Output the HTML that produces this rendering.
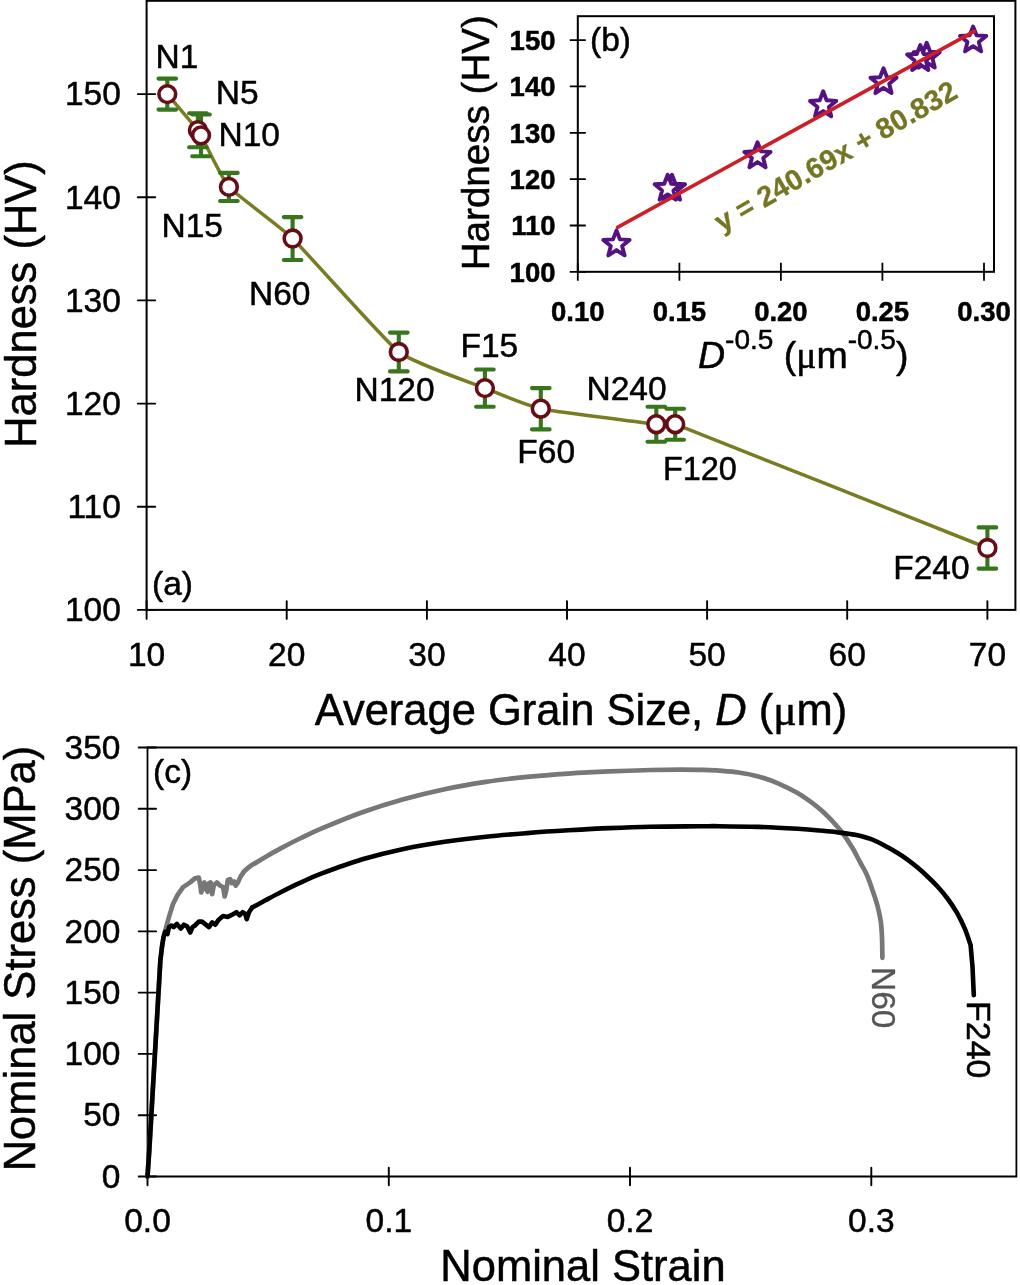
<!DOCTYPE html>
<html lang="en"><head><meta charset="utf-8"><title>Hardness and stress-strain figure</title>
<style>html,body{margin:0;padding:0;background:#fff}svg{display:block}text{font-family:"Liberation Sans", sans-serif;stroke:#000;stroke-width:.5px;stroke-linejoin:round}</style>
</head><body>
<svg width="1020" height="1285" viewBox="0 0 1020 1285">
<rect width="1020" height="1285" fill="#fff"/>
<rect x="146.6" y="0.8" width="868.8" height="609.1" fill="none" stroke="#000" stroke-width="2"/>
<path d="M146.6 601.1V618.9M286.7 601.1V618.9M426.9 601.1V618.9M567.0 601.1V618.9M707.1 601.1V618.9M847.2 601.1V618.9M987.4 601.1V618.9M137.8 609.9H155.2M137.8 506.7H155.2M137.8 403.6H155.2M137.8 300.4H155.2M137.8 197.3H155.2M137.8 94.1H155.2" stroke="#000" stroke-width="1.9" stroke-linecap="round" fill="none"/>
<g font-size="33.5" fill="#000">
<text x="146.6" y="665.6" text-anchor="middle">10</text>
<text x="286.7" y="665.6" text-anchor="middle">20</text>
<text x="426.9" y="665.6" text-anchor="middle">30</text>
<text x="567.0" y="665.6" text-anchor="middle">40</text>
<text x="707.1" y="665.6" text-anchor="middle">50</text>
<text x="847.2" y="665.6" text-anchor="middle">60</text>
<text x="987.4" y="665.6" text-anchor="middle">70</text>
<text x="120.8" y="621.2" text-anchor="end">100</text>
<text x="120.8" y="518.0" text-anchor="end">110</text>
<text x="120.8" y="414.9" text-anchor="end">120</text>
<text x="120.8" y="311.7" text-anchor="end">130</text>
<text x="120.8" y="208.6" text-anchor="end">140</text>
<text x="120.8" y="105.4" text-anchor="end">150</text>
</g>
<path d="M167.3 94.1C169.5 96.7 195.5 127.3 197.9 130.2C200.3 133.2 198.8 131.3 201.0 135.4C203.3 139.4 222.3 179.6 228.9 186.9C235.4 194.3 280.5 226.7 292.6 238.5C304.8 250.3 385.1 341.3 398.8 352.0C412.6 362.7 474.7 384.1 484.9 388.1C495.0 392.2 528.5 406.2 540.8 408.7C553.0 411.3 646.7 423.1 656.3 424.2C665.9 425.3 651.5 415.4 675.2 424.2C698.8 433.1 965.1 539.2 987.4 548.0" fill="none" stroke="#7a7c24" stroke-width="3.5" stroke-linejoin="round"/>
<path d="M167.3 78.6V109.6M158.5 78.6h17.6M158.5 109.6h17.6M197.9 113.2V147.2M189.1 113.2h17.6M189.1 147.2h17.6M201.0 114.5V156.2M192.2 114.5h17.6M192.2 156.2h17.6M228.9 172.9V201.0M220.1 172.9h17.6M220.1 201.0h17.6M292.6 217.1V260.0M283.8 217.1h17.6M283.8 260.0h17.6M398.8 332.6V371.4M390.0 332.6h17.6M390.0 371.4h17.6M484.9 369.5V406.7M476.1 369.5h17.6M476.1 406.7h17.6M540.8 388.1V429.4M532.0 388.1h17.6M532.0 429.4h17.6M656.3 406.7V441.7M647.5 406.7h17.6M647.5 441.7h17.6M675.2 408.7V439.7M666.4 408.7h17.6M666.4 439.7h17.6M987.4 527.4V568.6M978.6 527.4h17.6M978.6 568.6h17.6" fill="none" stroke="#38761d" stroke-width="4.1" stroke-linecap="round"/>
<circle cx="167.3" cy="94.1" r="8.4" fill="#fff" stroke="#660d17" stroke-width="3.6"/>
<circle cx="197.9" cy="130.2" r="8.4" fill="#fff" stroke="#660d17" stroke-width="3.6"/>
<circle cx="201.0" cy="135.4" r="8.4" fill="#fff" stroke="#660d17" stroke-width="3.6"/>
<circle cx="228.9" cy="186.9" r="8.4" fill="#fff" stroke="#660d17" stroke-width="3.6"/>
<circle cx="292.6" cy="238.5" r="8.4" fill="#fff" stroke="#660d17" stroke-width="3.6"/>
<circle cx="398.8" cy="352.0" r="8.4" fill="#fff" stroke="#660d17" stroke-width="3.6"/>
<circle cx="484.9" cy="388.1" r="8.4" fill="#fff" stroke="#660d17" stroke-width="3.6"/>
<circle cx="540.8" cy="408.7" r="8.4" fill="#fff" stroke="#660d17" stroke-width="3.6"/>
<circle cx="656.3" cy="424.2" r="8.4" fill="#fff" stroke="#660d17" stroke-width="3.6"/>
<circle cx="675.2" cy="424.2" r="8.4" fill="#fff" stroke="#660d17" stroke-width="3.6"/>
<circle cx="987.4" cy="548.0" r="8.4" fill="#fff" stroke="#660d17" stroke-width="3.6"/>
<g font-size="33.5" fill="#000">
<text x="155.5" y="68">N1</text>
<text x="215.8" y="103.7">N5</text>
<text x="218.5" y="145.5">N10</text>
<text x="161.5" y="236.5">N15</text>
<text x="249" y="305">N60</text>
<text x="354.5" y="401">N120</text>
<text x="460.5" y="356.5">F15</text>
<text x="517.3" y="463">F60</text>
<text x="586.5" y="400">N240</text>
<text x="663" y="480.3" font-size="32.4">F120</text>
<text x="893.2" y="578.5">F240</text>
<text x="152" y="594.5">(a)</text>
</g>
<text transform="translate(36.0,304) rotate(-90)" text-anchor="middle" font-size="43.5">Hardness (HV)</text>
<text x="581" y="725" text-anchor="middle" font-size="43.5">Average Grain Size, <tspan font-style="italic">D</tspan> (<tspan font-family="'Liberation Serif', serif">μ</tspan>m)</text>
<rect x="577.8" y="16.2" width="416.2" height="255.6" fill="#fff" stroke="#000" stroke-width="2"/>
<path d="M577.8 262.8V280.8M679.4 262.8V280.8M780.9 262.8V280.8M882.4 262.8V280.8M984.0 262.8V280.8M569.8 271.8H585.8M569.8 225.5H585.8M569.8 179.1H585.8M569.8 132.8H585.8M569.8 86.4H585.8M569.8 40.1H585.8" stroke="#000" stroke-width="1.8" fill="none"/>
<g font-size="27.5" font-weight="bold" fill="#000">
<text x="577.8" y="320.5" text-anchor="middle">0.10</text>
<text x="679.4" y="320.5" text-anchor="middle">0.15</text>
<text x="780.9" y="320.5" text-anchor="middle">0.20</text>
<text x="882.4" y="320.5" text-anchor="middle">0.25</text>
<text x="984.0" y="320.5" text-anchor="middle">0.30</text>
<text x="555.5" y="281.6" text-anchor="end">100</text>
<text x="555.5" y="235.3" text-anchor="end">110</text>
<text x="555.5" y="188.9" text-anchor="end">120</text>
<text x="555.5" y="142.6" text-anchor="end">130</text>
<text x="555.5" y="96.2" text-anchor="end">140</text>
<text x="555.5" y="49.9" text-anchor="end">150</text>
</g>
<g fill="#fff" stroke="#541380" stroke-width="3.9" stroke-linejoin="round">
<polygon points="973.1,26.5 976.6,35.4 986.3,36.0 978.8,42.1 981.2,51.4 973.1,46.2 965.0,51.4 967.5,42.1 960.0,36.0 969.6,35.4"/>
<polygon points="926.7,42.7 930.2,51.7 939.8,52.2 932.4,58.3 934.8,67.6 926.7,62.4 918.6,67.6 921.1,58.3 913.6,52.2 923.2,51.7"/>
<polygon points="920.3,45.0 923.7,54.0 933.4,54.5 925.9,60.6 928.4,70.0 920.3,64.7 912.1,70.0 914.6,60.6 907.1,54.5 916.8,54.0"/>
<polygon points="883.5,68.2 887.0,77.2 896.6,77.7 889.2,83.8 891.6,93.1 883.5,87.9 875.4,93.1 877.9,83.8 870.4,77.7 880.0,77.2"/>
<polygon points="823.2,91.3 826.6,100.3 836.3,100.9 828.8,107.0 831.3,116.3 823.2,111.1 815.0,116.3 817.5,107.0 810.0,100.9 819.7,100.3"/>
<polygon points="757.5,142.3 761.0,151.3 770.6,151.9 763.2,158.0 765.6,167.3 757.5,162.1 749.4,167.3 751.9,158.0 744.4,151.9 754.0,151.3"/>
<polygon points="672.0,174.8 675.4,183.8 685.1,184.3 677.6,190.4 680.1,199.7 672.0,194.5 663.8,199.7 666.3,190.4 658.8,184.3 668.5,183.8"/>
<polygon points="667.7,174.8 671.2,183.8 680.8,184.3 673.4,190.4 675.8,199.7 667.7,194.5 659.6,199.7 662.1,190.4 654.6,184.3 664.2,183.8"/>
<polygon points="616.5,230.4 619.9,239.4 629.6,239.9 622.1,246.0 624.6,255.4 616.5,250.1 608.3,255.4 610.8,246.0 603.3,239.9 613.0,239.4"/>
</g>
<path d="M617.5 227.3L974.1 31.4" stroke="#cd1f28" stroke-width="3.6" stroke-linecap="round" fill="none"/>
<text transform="translate(721.5,232.5) rotate(-29.7)" font-size="28.8" font-weight="bold" fill="#757624" style="stroke:#757624;stroke-width:.3px">y = 240.69x + 80.832</text>
<text x="590" y="51" font-size="33.5">(b)</text>
<text transform="translate(489,142.7) rotate(-90)" text-anchor="middle" font-size="38.6">Hardness (HV)</text>
<text x="698" y="368" font-size="37.5"><tspan font-style="italic">D</tspan><tspan font-size="28" dy="-18.7">-0.5</tspan><tspan dy="18.7"> (</tspan><tspan font-family="'Liberation Serif', serif">μ</tspan>m<tspan font-size="28" dy="-18.7">-0.5</tspan><tspan dy="18.7">)</tspan></text>
<path d="M147.5 747.5H1016.4V1176.5H147.5Z" fill="none" stroke="#000" stroke-width="1.8"/>
<path d="M147.5 1167.7V1185.3M388.8 1167.7V1185.3M630.0 1167.7V1185.3M871.3 1167.7V1185.3M138.7 1176.5H156.1M138.7 1115.2H156.1M138.7 1053.9H156.1M138.7 992.6H156.1M138.7 931.4H156.1M138.7 870.1H156.1M138.7 808.8H156.1M138.7 747.5H156.1" stroke="#000" stroke-width="1.9" stroke-linecap="round" fill="none"/>
<g font-size="33.5" fill="#000">
<text x="147.5" y="1232" text-anchor="middle">0.0</text>
<text x="388.8" y="1232" text-anchor="middle">0.1</text>
<text x="630.0" y="1232" text-anchor="middle">0.2</text>
<text x="871.3" y="1232" text-anchor="middle">0.3</text>
<text x="120.5" y="1187.7" text-anchor="end">0</text>
<text x="120.5" y="1126.4" text-anchor="end">50</text>
<text x="120.5" y="1065.1" text-anchor="end">100</text>
<text x="120.5" y="1003.8" text-anchor="end">150</text>
<text x="120.5" y="942.6" text-anchor="end">200</text>
<text x="120.5" y="881.3" text-anchor="end">250</text>
<text x="120.5" y="820.0" text-anchor="end">300</text>
<text x="120.5" y="758.7" text-anchor="end">350</text>
<text x="153" y="782.5">(c)</text>
</g>
<path d="M147.5 1176.5L149.3 1150.0L160.4 960.0L162.0 946.7L163.5 937.3L165.1 931.0L169.0 916.9L172.9 904.3L177.6 894.9L183.1 887.1L190.2 882.4L194.9 878.4L198.8 877.6L200.4 885.5L201.2 892.5L202.7 887.1L204.3 882.4L205.9 888.6L207.5 891.8L209.0 883.1L210.6 882.4L212.2 894.1L213.7 885.5L216.9 882.4L220.0 885.5L223.1 887.1L224.7 896.5L226.3 890.2L227.8 880.0L230.2 879.2L231.8 883.1L234.1 881.6L235.7 885.5L238.0 882.4L240.4 876.9L243.5 872.2" fill="none" stroke="#777" stroke-width="4.7" stroke-linejoin="round" stroke-linecap="round"/>
<path d="M243.5 872.2C244.6 871.2 246.1 869.0 249.8 866.5C253.5 864.0 260.3 860.0 265.5 856.9C270.7 853.8 275.4 851.2 281.2 848.1C286.9 845.0 293.3 841.7 300.0 838.5C306.7 835.3 310.8 833.1 321.2 828.7C331.6 824.3 348.7 817.2 362.4 812.3C376.1 807.4 389.8 803.1 403.5 799.3C417.2 795.4 431.0 792.1 444.7 789.2C458.4 786.3 472.2 784.0 485.9 781.9C499.6 779.8 513.4 778.3 527.1 776.9C540.8 775.5 554.5 774.5 568.2 773.6C581.9 772.7 595.7 772.0 609.4 771.4C623.1 770.8 638.8 770.3 650.6 770.0C662.4 769.7 671.8 769.6 680.0 769.6C688.2 769.6 693.1 769.6 699.6 769.8C706.1 770.0 712.7 770.1 719.2 770.6C725.7 771.1 732.3 771.5 738.8 772.5C745.3 773.5 751.9 774.7 758.4 776.5C764.9 778.3 771.5 780.5 778.0 783.3C784.5 786.1 791.1 789.2 797.6 793.1C804.1 797.0 811.7 802.5 817.3 806.9C822.9 811.3 826.8 815.2 831.0 819.6C835.2 824.0 839.1 828.6 842.7 833.3C846.3 838.0 849.5 843.0 852.5 848.0C855.5 853.0 858.1 858.6 860.5 863.0C862.9 867.4 864.7 870.0 866.7 874.5C868.7 879.0 870.7 885.0 872.5 890.2C874.3 895.4 876.1 900.7 877.5 905.9C878.9 911.1 880.0 916.4 880.8 921.6C881.5 926.8 881.7 931.3 882.0 937.3C882.3 943.3 882.3 954.4 882.4 957.8" fill="none" stroke="#777" stroke-width="4.7" stroke-linejoin="round" stroke-linecap="round"/>
<path d="M147.5 1176.5L149.3 1150.0L160.4 960.0L162.0 946.7L163.5 937.3L165.1 931.8L167.5 934.1L169.0 927.1L171.4 925.5L173.7 927.1L176.9 923.9L180.8 928.6L183.9 924.7L187.1 926.3L190.2 932.5L192.5 927.1L194.9 925.5L198.8 921.6L202.0 921.6L209.0 927.1L212.2 922.4L215.3 924.7L218.4 920.0L223.1 916.1L227.8 916.9L232.5 914.5L236.5 912.2L239.6 915.3L242.7 912.2L245.1 913.7L246.7 919.2L249.0 912.2L252.2 907.5" fill="none" stroke="#000" stroke-width="4.6" stroke-linejoin="round" stroke-linecap="round"/>
<path d="M252.2 907.5C254.4 906.3 260.7 902.9 265.5 900.3C270.3 897.7 275.4 894.9 281.2 892.0C286.9 889.1 293.3 885.9 300.0 882.9C306.7 879.9 310.8 877.6 321.2 873.7C331.6 869.8 348.7 863.4 362.4 859.3C376.1 855.2 389.8 851.8 403.5 848.9C417.2 846.0 431.0 843.7 444.7 841.7C458.4 839.7 472.2 838.1 485.9 836.7C499.6 835.3 513.4 834.2 527.1 833.1C540.8 832.0 554.5 831.1 568.2 830.3C581.9 829.5 595.7 828.7 609.4 828.1C623.1 827.5 635.5 827.0 650.6 826.7C665.7 826.4 688.6 826.4 700.0 826.3C711.4 826.2 709.5 826.1 719.2 826.2C728.9 826.3 745.3 826.5 758.4 826.9C771.5 827.3 787.4 828.2 797.6 828.8C807.8 829.4 813.1 829.9 819.6 830.5C826.1 831.1 830.8 831.5 836.9 832.2C843.0 833.0 851.2 834.0 856.5 835.0C861.8 836.0 864.7 837.0 868.4 838.2C872.1 839.5 875.5 840.9 878.8 842.5C882.1 844.1 885.0 845.8 888.2 847.6C891.4 849.4 894.7 851.3 898.0 853.3C901.3 855.3 904.5 857.4 907.8 859.8C911.1 862.2 914.3 864.8 917.6 867.6C920.9 870.4 924.2 873.4 927.5 876.5C930.8 879.6 934.0 882.7 937.3 886.3C940.6 889.9 943.8 893.6 947.1 898.0C950.4 902.4 954.0 907.6 956.9 912.7C959.8 917.8 962.4 923.0 964.7 928.4C967.0 933.8 969.6 942.3 970.6 945.1L972.5 966.7L973.8 995.2" fill="none" stroke="#000" stroke-width="4.6" stroke-linejoin="round" stroke-linecap="round"/>
<text transform="translate(871.5,967) rotate(90)" font-size="33.5" fill="#555" style="stroke:#555;stroke-width:.3px">N60</text>
<text transform="translate(967,1001) rotate(90)" font-size="34" fill="#000">F240</text>
<text transform="translate(34.7,958.6) rotate(-90)" text-anchor="middle" font-size="43.5">Nominal Stress (MPa)</text>
<text x="583" y="1280.5" text-anchor="middle" font-size="43.5">Nominal Strain</text>
</svg>
</body></html>
